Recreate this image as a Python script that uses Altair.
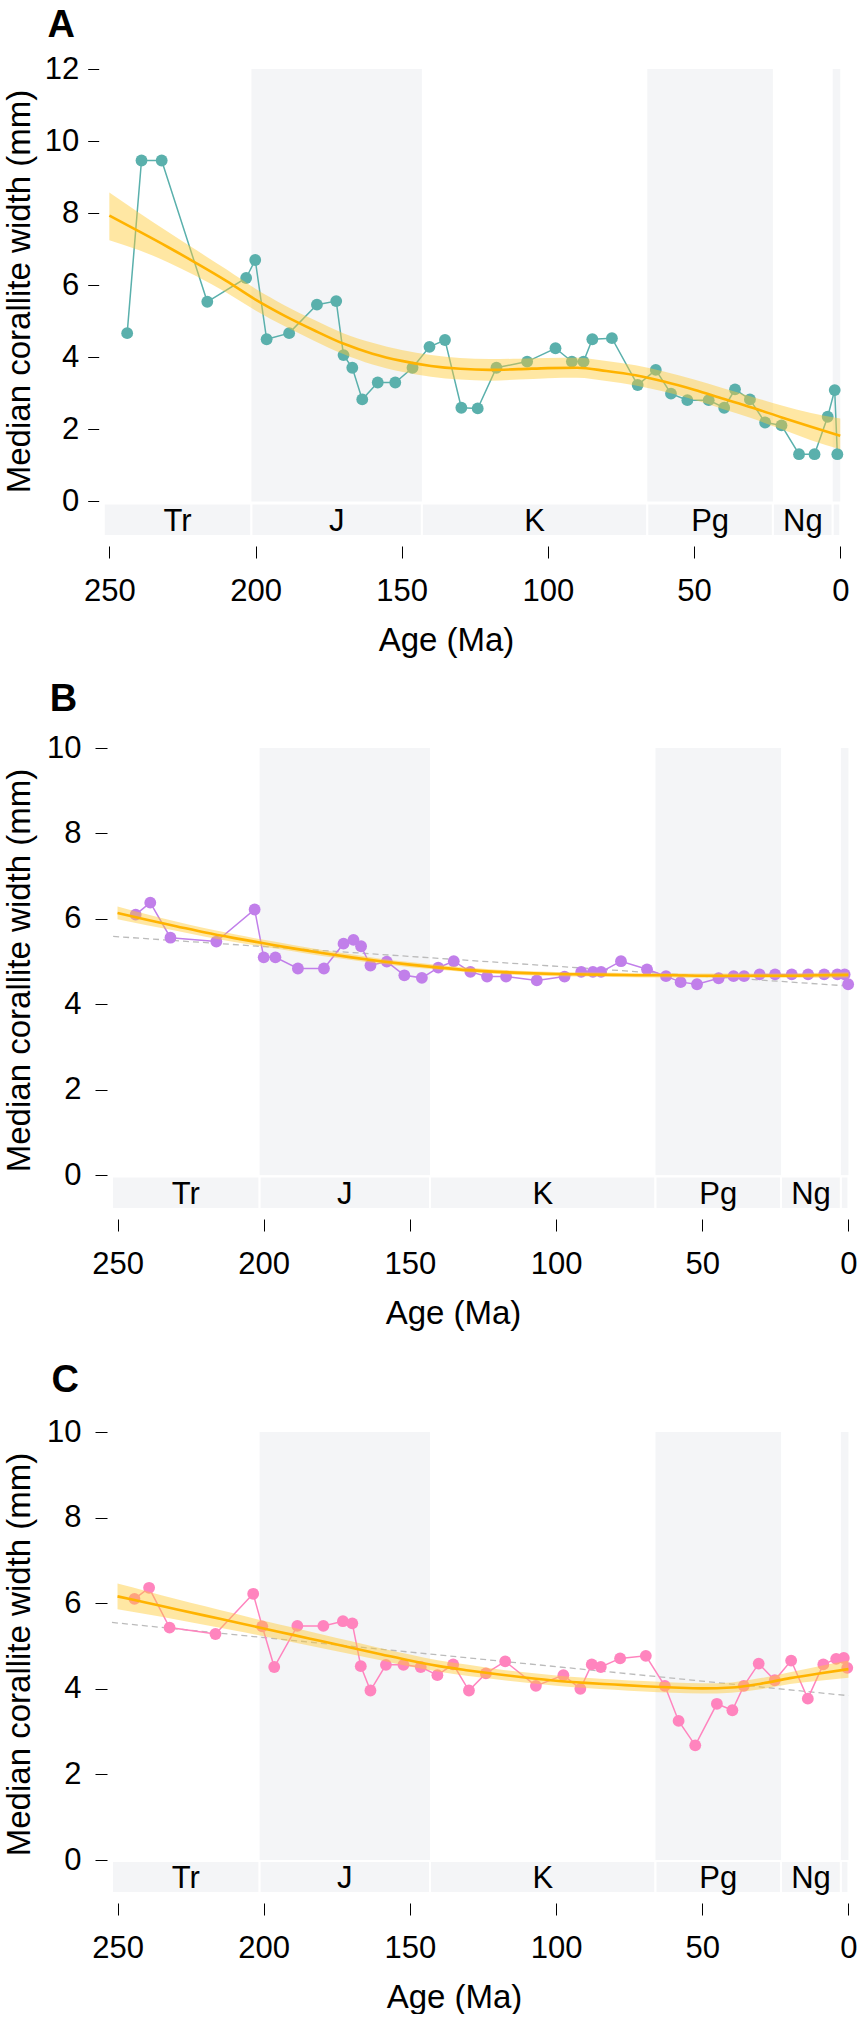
import altair as alt
import pandas as pd

FONT = "Liberation Sans"

# ---------------- geologic time scale (GTS2020) ----------------
period_names = ["Tr", "J", "K", "Pg", "Ng", "Q"]
period_start = [251.902, 201.4, 143.1, 66.0, 23.04, 2.58]
period_end = [201.4, 143.1, 66.0, 23.04, 2.58, 0.0]
period_labels = ["Tr", "J", "K", "Pg", "Ng", ""]
period_shaded = [False, True, False, True, False, True]

x_ticks = [250, 200, 150, 100, 50, 0]

# ---------------- panel A ----------------
a_age = [243.9, 239.0, 232.1, 216.5, 203.2, 200.1, 196.2, 188.5, 179.0, 172.4, 169.9,
         166.9, 163.5, 158.2, 152.2, 146.3, 140.5, 135.2, 129.6, 124.0, 117.6, 107.1,
         97.4, 91.8, 87.8, 84.8, 78.1, 69.3, 63.1, 57.9, 52.3, 45.0, 39.7, 36.0, 30.9,
         25.7, 20.1, 14.1, 8.8, 4.3, 1.9, 1.0]
a_val = [4.67, 9.46, 9.46, 5.54, 6.20, 6.70, 4.50, 4.67, 5.46, 5.56, 4.06,
         3.71, 2.83, 3.30, 3.30, 3.71, 4.29, 4.48, 2.60, 2.58, 3.71, 3.88,
         4.25, 3.88, 3.88, 4.50, 4.53, 3.23, 3.65, 2.99, 2.81, 2.81, 2.60, 3.11, 2.83,
         2.19, 2.11, 1.31, 1.31, 2.35, 3.09, 1.31]

# smooth (shared ages)
sm_age = [250, 240, 230, 220, 210, 200, 190, 180, 170, 160, 150, 140, 130,
          120, 110, 100, 90, 80, 70, 60, 50, 40, 30, 20, 10, 0]
a_fit = [7.93, 7.50, 7.06, 6.60, 6.12, 5.60, 5.15, 4.75, 4.38, 4.10, 3.90, 3.76, 3.68,
         3.65, 3.67, 3.70, 3.71, 3.62, 3.50, 3.32, 3.10, 2.85, 2.60, 2.33, 2.07, 1.82]
a_hi = [8.57, 8.02, 7.48, 6.96, 6.44, 5.90, 5.44, 5.04, 4.67, 4.40, 4.20, 4.06, 3.98,
        3.95, 3.96, 3.98, 3.99, 3.90, 3.78, 3.60, 3.38, 3.14, 2.90, 2.66, 2.45, 2.30]
a_lo = [7.25, 6.98, 6.64, 6.24, 5.80, 5.30, 4.86, 4.46, 4.09, 3.80, 3.60, 3.46, 3.38,
        3.35, 3.38, 3.42, 3.43, 3.34, 3.22, 3.04, 2.82, 2.56, 2.30, 2.00, 1.70, 1.45]

# ---------------- panel B ----------------
b_age = [243.8, 238.8, 231.9, 216.2, 203.1, 200.0, 196.0, 188.3, 179.4, 172.7, 169.3,
         166.7, 163.5, 157.9, 151.9, 145.9, 140.3, 135.0, 129.3, 123.6, 117.1, 106.6,
         97.1, 91.4, 87.4, 84.6, 77.8, 68.9, 62.4, 57.4, 51.8, 44.4, 39.3, 35.7, 30.4,
         25.1, 19.4, 13.8, 8.3, 3.8, 1.3, 0.1]
b_val = [6.10, 6.38, 5.56, 5.47, 6.22, 5.10, 5.10, 4.84, 4.84, 5.42, 5.51,
         5.36, 4.91, 5.00, 4.68, 4.62, 4.86, 5.01, 4.76, 4.65, 4.65, 4.56,
         4.65, 4.76, 4.76, 4.76, 5.01, 4.82, 4.66, 4.52, 4.47, 4.61, 4.66, 4.66, 4.70,
         4.70, 4.70, 4.70, 4.70, 4.70, 4.70, 4.47]
b_fit = [6.14, 5.98, 5.83, 5.68, 5.55, 5.43, 5.31, 5.20, 5.10, 5.01, 4.93, 4.86, 4.80,
         4.76, 4.73, 4.71, 4.70, 4.69, 4.68, 4.68, 4.67, 4.67, 4.67, 4.67, 4.68, 4.69]
b_hi = [6.29, 6.11, 5.94, 5.78, 5.64, 5.51, 5.39, 5.27, 5.17, 5.07, 4.99, 4.92, 4.86,
        4.81, 4.78, 4.76, 4.75, 4.74, 4.73, 4.73, 4.72, 4.72, 4.72, 4.72, 4.74, 4.75]
b_lo = [5.99, 5.85, 5.72, 5.58, 5.46, 5.35, 5.24, 5.13, 5.04, 4.95, 4.87, 4.81, 4.75,
        4.71, 4.68, 4.66, 4.65, 4.64, 4.63, 4.63, 4.62, 4.62, 4.62, 4.62, 4.62, 4.63]
b_dash_age = [251.5, 0.0]
b_dash_val = [5.59, 4.43]

# ---------------- panel C ----------------
c_age = [244.2, 239.2, 232.2, 216.5, 203.6, 200.5, 196.4, 188.5, 179.6, 172.9, 169.7,
         166.8, 163.5, 158.2, 152.2, 146.3, 140.6, 135.2, 129.8, 124.0, 117.4, 106.9,
         97.5, 91.7, 87.8, 84.7, 78.1, 69.3, 62.8, 58.1, 52.4, 45.0, 39.7, 35.8, 30.7,
         25.2, 19.6, 13.9, 8.6, 4.2, 1.6, 0.4]
c_val = [6.10, 6.36, 5.43, 5.28, 6.22, 5.46, 4.51, 5.47, 5.47, 5.58, 5.53,
         4.53, 3.96, 4.56, 4.56, 4.51, 4.32, 4.57, 3.96, 4.36, 4.64, 4.07,
         4.32, 4.00, 4.57, 4.51, 4.71, 4.77, 4.07, 3.25, 2.68, 3.65, 3.50, 4.07, 4.59,
         4.20, 4.66, 3.77, 4.57, 4.70, 4.72, 4.49]
c_fit = [6.16, 6.01, 5.86, 5.71, 5.56, 5.41, 5.26, 5.11, 4.96, 4.81, 4.66, 4.53, 4.43,
         4.34, 4.26, 4.19, 4.14, 4.10, 4.06, 4.03, 4.01, 4.03, 4.12, 4.25, 4.36, 4.46]
c_hi = [6.46, 6.28, 6.10, 5.93, 5.76, 5.59, 5.43, 5.27, 5.11, 4.95, 4.80, 4.66, 4.56,
        4.46, 4.38, 4.31, 4.26, 4.22, 4.18, 4.15, 4.13, 4.15, 4.25, 4.39, 4.53, 4.66]
c_lo = [5.86, 5.74, 5.62, 5.49, 5.36, 5.23, 5.09, 4.95, 4.81, 4.67, 4.52, 4.40, 4.30,
        4.22, 4.14, 4.07, 4.02, 3.98, 3.94, 3.91, 3.89, 3.91, 3.99, 4.11, 4.19, 4.26]
c_dash_age = [251.9, 0.0]
c_dash_val = [5.55, 3.84]

SHADE = "#F4F5F7"
ORANGE = "#FFB300"
BAND = "#FFC933"
YTITLE = "Median corallite width (mm)"
XTITLE = "Age (Ma)"


def make_panel(letter, ages, vals, color, fit, lo, hi, y_ticks, ymin, ymax,
               strip_top, strip_bot, height, xdom, yaxis_opts, xtitle_x,
               title_dx, title_offset, dash_age=None, dash_val=None):
    xs = alt.Scale(domain=[xdom[1], xdom[0]], reverse=True, nice=False, zero=False)
    ys = alt.Scale(domain=[ymin, ymax], nice=False, zero=False)
    xaxis = alt.Axis(values=x_ticks, title=XTITLE, offset=10, tickSize=12,
                     labelPadding=18, titlePadding=18, format="d", titleX=xtitle_x)
    yaxis = alt.Axis(values=y_ticks, title=YTITLE, format="d", titleY=222,
                     offset=yaxis_opts[0], tickSize=yaxis_opts[1],
                     labelPadding=yaxis_opts[2], titlePadding=yaxis_opts[3])

    def X(field):
        return alt.X(field, type="quantitative", scale=xs, axis=xaxis, title=XTITLE)

    def Y(field):
        return alt.Y(field, type="quantitative", scale=ys, axis=yaxis, title=YTITLE)

    per = pd.DataFrame({
        "name": period_names, "start": period_start, "end": period_end,
        "label": period_labels, "shaded": period_shaded,
    })
    per["mid"] = [(s + e) / 2 for s, e in zip(period_start, period_end)]
    per["b0"] = 0.0
    per["b1"] = float(y_ticks[-1])
    per["s0"] = strip_top
    per["s1"] = strip_bot
    per["smid"] = (strip_top + strip_bot) / 2

    bands = alt.Chart(per[per["shaded"]]).mark_rect(color=SHADE).encode(
        x=X("start"), x2="end", y=Y("b0"), y2="b1")
    strip = alt.Chart(per).mark_rect(fill=SHADE, stroke="white", strokeWidth=2).encode(
        x=X("start"), x2="end", y=Y("s0"), y2="s1")
    strip_txt = alt.Chart(per).mark_text(font=FONT, fontSize=31, color="black",
                                         baseline="middle", dy=2).encode(
        x=X("mid"), y=Y("smid"), text="label:N")

    pts = pd.DataFrame({"age": ages, "val": vals})
    sm = pd.DataFrame({"age": sm_age, "fit": fit, "lo": lo, "hi": hi})

    layers = [bands, strip, strip_txt]
    if dash_age is not None:
        dd = pd.DataFrame({"age": dash_age, "val": dash_val})
        layers.append(alt.Chart(dd).mark_line(color="#BBBBBB", strokeWidth=1.3,
                                              strokeDash=[6, 4]).encode(
            x=X("age"), y=Y("val")))
    layers.append(alt.Chart(pts).mark_line(color=color, strokeWidth=1.5).encode(
        x=X("age"), y=Y("val")))
    layers.append(alt.Chart(pts).mark_circle(color=color, opacity=1, size=140).encode(
        x=X("age"), y=Y("val")))
    layers.append(alt.Chart(sm).mark_area(color=BAND, opacity=0.45,
                                          interpolate="monotone").encode(
        x=X("age"), y=Y("lo"), y2="hi"))
    layers.append(alt.Chart(sm).mark_line(color=ORANGE, strokeWidth=2.6,
                                          interpolate="monotone").encode(
        x=X("age"), y=Y("fit")))

    return alt.layer(*layers).properties(
        width=747, height=height,
        title=alt.TitleParams(text=letter, anchor="start", frame="group",
                              fontSize=38, fontWeight="bold", font=FONT,
                              color="black", dx=title_dx, offset=title_offset),
    )


pA = make_panel("A", a_age, a_val, "#5AB0AC", a_fit, a_lo, a_hi,
                [0, 2, 4, 6, 8, 10, 12], -0.96, 12, -0.06, -0.96, 467,
                (250.8, -4.7), (8.3, 11, 9, 8), 339, -59.5, 8)
pB = make_panel("B", b_age, b_val, "#C17FEA", b_fit, b_lo, b_hi,
                [0, 2, 4, 6, 8, 10], -0.79, 10, -0.03, -0.79, 461,
                (253.6, -1.9), (0, 12, 14, 10), 346, -57.3, 13,
                b_dash_age, b_dash_val)
pC = make_panel("C", c_age, c_val, "#FF84BE", c_fit, c_lo, c_hi,
                [0, 2, 4, 6, 8, 10], -0.77, 10, -0.02, -0.77, 461,
                (253.6, -1.9), (0, 12, 14, 10), 347, -55.4, 16,
                c_dash_age, c_dash_val)

chart = alt.vconcat(alt.vconcat(pA, pB, spacing=24), pC, spacing=32).properties(
    padding={"left": 3, "top": 7, "right": 0, "bottom": 0}
).configure_axis(
    labelFont=FONT, titleFont=FONT, labelFontSize=31, titleFontSize=33,
    labelColor="black", titleColor="black", tickColor="black", tickWidth=1,
    domain=False, grid=False, titleFontWeight="normal",
).configure_view(stroke=None)

chart.save("out.html", embed_options={"renderer": "svg", "actions": False})
